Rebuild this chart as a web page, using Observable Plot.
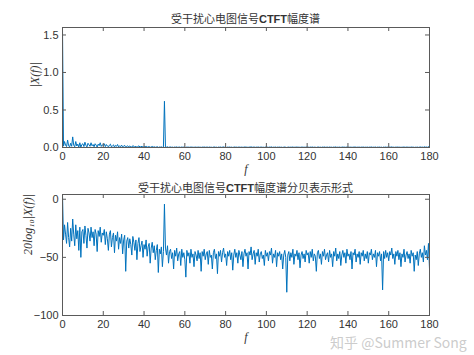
<!DOCTYPE html>
<html><head><meta charset="utf-8">
<script src="https://cdn.jsdelivr.net/npm/d3@7"></script>
<script src="https://cdn.jsdelivr.net/npm/@observablehq/plot@0.6"></script>
<style>
body{margin:0;background:#fff;}
#wrap{position:relative;width:474px;height:355px;overflow:hidden;background:#fff;}
#wrap svg{position:absolute;left:0;}
.title{position:absolute;left:0;width:491px;text-align:center;font:11px "Noto Sans CJK SC",sans-serif;color:#333;white-space:nowrap;line-height:14px;}
.title b{font-family:"Liberation Sans",Arial,sans-serif;font-weight:bold;}
.wm{position:absolute;left:330px;top:333px;font:14px/18px "Noto Sans CJK SC",sans-serif;color:rgba(190,190,190,0.8);white-space:nowrap;}
</style></head><body><div id="wrap"></div>
<script>
// Frequency resolution of the spectrum samples (Hz)
const df = 0.5;
// Spectrum in dB, 20*log10|X(f)|, f = 0, 0.5, ... 180
const spectrumDB = [
  4.08, -35, -22, -30, -38, -20, -33, -41, -25, -36, -17, -30, -40, -22, -34, -27, -44, -24, -50, -28,
  -26, -38, -23, -31, -42, -25, -29, -36, -24, -33, -28, -40, -26, -30, -45, -27, -32, -24, -37, -29,
  -31, -26, -39, -28, -34, -44, -30, -27, -41, -33, -29, -46, -31, -36, -28, -43, -33, -38, -30, -47,
  -35, -31, -62, -36, -33, -42, -34, -39, -48, -32, -37, -44, -35, -52, -38, -33, -45, -40, -36, -50,
  -39, -43, -35, -49, -41, -38, -55, -42, -37, -46, -40, -52, -44, -39, -63, -43, -47, -41, -58, -45,
  -4.2, -42, -48, -40, -55, -45, -43, -51, -46, -60, -44, -49, -42, -53, -47, -45, -57, -43, -50, -46,
  -52, -67, -44, -49, -46, -55, -43, -50, -47, -58, -45, -48, -53, -44, -51, -46, -62, -45, -49, -43,
  -52, -47, -45, -56, -44, -50, -48, -60, -46, -43, -51, -47, -64, -45, -49, -44, -54, -46, -42, -50,
  -47, -57, -45, -49, -44, -52, -46, -61, -48, -43, -50, -46, -55, -44, -48, -52, -45, -58, -47, -43,
  -49, -46, -60, -45, -48, -41, -52, -47, -44, -56, -46, -49, -43, -54, -47, -45, -51, -48, -57, -44,
  -49, -46, -53, -45, -48, -42, -55, -47, -50, -44, -58, -46, -49, -45, -52, -47, -60, -48, -44, -50,
  -80, -48, -45, -53, -46, -50, -43, -56, -47, -49, -44, -52, -46, -59, -48, -45, -51, -47, -54, -44,
  -48, -46, -55, -45, -50, -43, -53, -47, -49, -62, -46, -44, -51, -47, -56, -45, -49, -43, -52, -48,
  -46, -54, -44, -50, -47, -58, -45, -49, -42, -53, -47, -51, -45, -57, -48, -44, -50, -46, -55, -43,
  -49, -47, -52, -45, -60, -46, -48, -43, -54, -47, -50, -45, -56, -46, -49, -44, -53, -47, -51, -45,
  -55, -46, -48, -43, -52, -47, -50, -44, -58, -46, -49, -45, -53, -47, -78, -45, -51, -44, -50, -46,
  -53, -45, -48, -42, -51, -47, -56, -45, -49, -44, -52, -46, -58, -47, -50, -43, -54, -48, -45, -51,
  -47, -55, -44, -49, -46, -62, -48, -52, -45, -57, -47, -43, -50, -46, -54, -40, -48, -44, -52, -38,
  -60
];
const xTicks = [0, 20, 40, 60, 80, 100, 120, 140, 160, 180];
const yTicksTop = [0, 0.5, 1, 1.5];
const yTicksBottom = [-100, -50, 0];
const titleTop = ["受干扰心电图信号", "CTFT", "幅度谱"];
const titleBottom = ["受干扰心电图信号", "CTFT", "幅度谱分贝表示形式"];
const xLabel = "f";
const yLabelTop = "|X(f)|";
const yLabelBottom = "20log₁₀|X(f)|";

const data = spectrumDB.map((db, i) => ({f: i * df, db, mag: Math.pow(10, db / 20)}));

const W = 474, ML = 62, MR = 45;
const innerW = W - ML - MR;
const axisColor = "#5a5a5a";

function panel({y, yDomain, yTicks, height, mt, mb, ylabel, ylabelDx}) {
  const innerH = height - mt - mb;
  return Plot.plot({
    width: W, height, marginLeft: ML, marginRight: MR, marginTop: mt, marginBottom: mb,
    x: {domain: [0, 180]},
    y: {domain: yDomain},
    style: {fontFamily: "'Liberation Sans', Arial, sans-serif", fontSize: "11px", color: "#333", background: "white", overflow: "visible"},
    marks: [
      Plot.line(data, {x: "f", y, stroke: "#0072BD", strokeWidth: 1}),
      Plot.ruleX(xTicks, {stroke: axisColor, insetTop: innerH - 4}),
      Plot.ruleX(xTicks, {stroke: axisColor, insetBottom: innerH - 4}),
      Plot.ruleY(yTicks, {stroke: axisColor, insetLeft: innerW - 4}),
      Plot.ruleY(yTicks, {stroke: axisColor, insetRight: innerW - 4}),
      Plot.frame({stroke: axisColor}),
      Plot.axisX(xTicks, {tickSize: 0, tickPadding: 5, label: null, fill: "#333"}),
      Plot.axisY(yTicks, {tickSize: 0, tickPadding: 4, label: null, fill: "#333"}),
      Plot.text([xLabel], {text: d => d, frameAnchor: "bottom", dy: 25, fontStyle: "italic", fontFamily: "'Liberation Serif', serif", fontSize: 12, fill: "#333"}),
      Plot.text([ylabel], {text: d => d, frameAnchor: "left", dx: ylabelDx, rotate: -90, fontStyle: "italic", fontFamily: "'Liberation Serif', serif", fontSize: 12, fill: "#333"})
    ]
  });
}

const wrap = document.getElementById("wrap");
const top1 = panel({y: "mag", yDomain: [0, d3.max(data, d => d.mag)], yTicks: yTicksTop, height: 177, mt: 27, mb: 30, ylabel: yLabelTop, ylabelDx: -27});
top1.style.top = "0px";
wrap.appendChild(top1);
const bot = panel({y: "db", yDomain: [-100, d3.max(data, d => d.db)], yTicks: yTicksBottom, height: 178, mt: 17, mb: 40, ylabel: yLabelBottom, ylabelDx: -34});
bot.style.top = "177px";
wrap.appendChild(bot);

function addTitle(parts, topPx) {
  const d = document.createElement("div");
  d.className = "title";
  d.style.top = topPx + "px";
  d.appendChild(document.createTextNode(parts[0]));
  const b = document.createElement("b"); b.textContent = parts[1]; d.appendChild(b);
  d.appendChild(document.createTextNode(parts[2]));
  wrap.appendChild(d);
}
addTitle(titleTop, 11);
addTitle(titleBottom, 180);

const wm = document.createElement("div");
wm.className = "wm";
wm.textContent = "知乎 @Summer Song";
wrap.appendChild(wm);
</script></body></html>
